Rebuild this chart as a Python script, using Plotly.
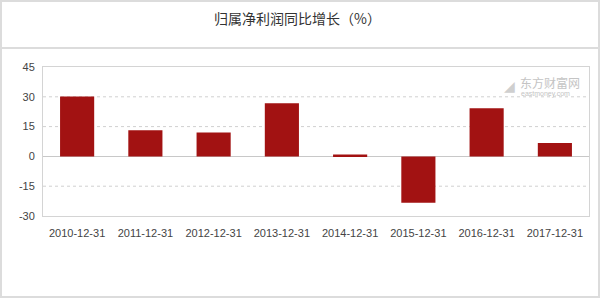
import plotly.graph_objects as go

categories = ["2010-12-31", "2011-12-31", "2012-12-31", "2013-12-31",
              "2014-12-31", "2015-12-31", "2016-12-31", "2017-12-31"]
growth = [30.2, 13.2, 12.0, 26.8, 1.0, -23.3, 24.2, 6.7]
y_ticks = [-30, -15, 0, 15, 30, 45]
title_text = "归属净利润同比增长（%）"

W, H = 600, 298
L, R, T, B = 43, 11, 67, 82
pw, ph = W - L - R, H - T - B

def px(x):
    return (x - L) / pw

def py(y):
    return (H - B - y) / ph

fig = go.Figure(go.Bar(
    x=categories, y=growth,
    marker=dict(color="#A21212", line=dict(width=0)),
    hoverinfo="x+y",
))

shapes = []
for v in [30, 15, -15]:
    shapes.append(dict(type="line", xref="paper", yref="y", x0=0, x1=1, y0=v, y1=v,
                       line=dict(color="#d0d0d0", width=1, dash="3px,3px"), layer="below"))
shapes.append(dict(type="rect", xref="paper", yref="paper",
                   x0=px(1), x1=px(599), y0=py(297), y1=py(1),
                   line=dict(color="#dcdcdc", width=2), layer="below"))
shapes.append(dict(type="line", xref="paper", yref="paper",
                   x0=px(1), x1=px(599), y0=py(48), y1=py(48),
                   line=dict(color="#dcdcdc", width=2), layer="below"))

annotations = [
    dict(text=title_text, xref="paper", yref="paper", x=px(297), y=py(18),
         showarrow=False, font=dict(size=14, color="#333333",
                                    family="Noto Sans CJK SC, sans-serif"),
         xanchor="center", yanchor="middle"),
    dict(text="东方财富网", xref="paper", yref="paper", x=px(518), y=py(82),
         showarrow=False, font=dict(size=12, color="#c4c4c4",
                                    family="Noto Sans CJK SC, sans-serif"),
         xanchor="left", yanchor="middle"),
    dict(text="eastmoney.com", xref="paper", yref="paper", x=px(519), y=py(94),
         showarrow=False, font=dict(size=7, color="#c4c4c4",
                                    family="Liberation Sans, Arial, sans-serif"),
         xanchor="left", yanchor="middle"),
    dict(text="◢", xref="paper", yref="paper", x=px(502), y=py(86),
         showarrow=False, font=dict(size=14, color="#cfcfcf"),
         xanchor="left", yanchor="middle"),
]

fig.update_layout(
    width=W, height=H,
    margin=dict(l=L, r=R, t=T, b=B, pad=0),
    paper_bgcolor="white", plot_bgcolor="white",
    showlegend=False,
    bargap=0.5,
    font=dict(family="Liberation Sans, Arial, sans-serif", size=11, color="#444444"),
    shapes=shapes,
    annotations=annotations,
    xaxis=dict(
        type="category", showgrid=False, zeroline=False,
        showline=True, mirror=True, linecolor="#d4d4d4", linewidth=1,
        ticks="outside", ticklen=7, tickcolor="rgba(0,0,0,0)",
        tickfont=dict(size=11, color="#444444"),
    ),
    yaxis=dict(
        range=[-30, 45], tickvals=y_ticks, ticktext=[str(v) for v in y_ticks],
        showgrid=False, zeroline=True, zerolinecolor="#c8c8c8", zerolinewidth=1,
        showline=True, mirror=True, linecolor="#d4d4d4", linewidth=1,
        ticks="outside", ticklen=5, tickcolor="rgba(0,0,0,0)",
        tickfont=dict(size=11, color="#444444"),
    ),
)

fig.write_html("out.html")
